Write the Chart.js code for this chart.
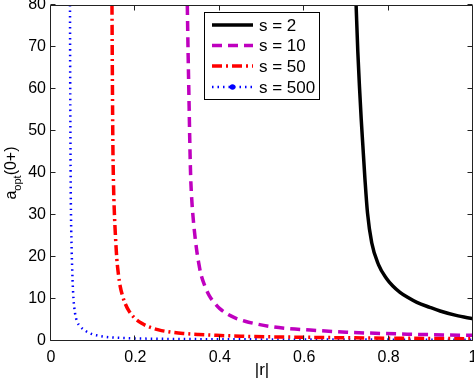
<!DOCTYPE html>
<html><head><meta charset="utf-8">
<script src="https://cdn.jsdelivr.net/npm/chart.js@4/dist/chart.umd.min.js"></script>
<style>html,body{margin:0;padding:0;background:#fff;overflow:hidden}</style>
</head><body>
<canvas id="c" width="474" height="379"></canvas>
<script>
// ---- data ----
const seriesLabels = ['s = 2', 's = 10', 's = 50', 's = 500'];
const rS2   = [0.723, 0.727, 0.731, 0.735, 0.739, 0.744, 0.750, 0.760, 0.776, 0.795, 0.810, 0.827, 0.845, 0.867, 0.898, 0.922, 0.960, 1.0];
const aS2   = [80, 69, 60.5, 53, 46.5, 38.5, 30.5, 23.4, 18.2, 14.9, 13.1, 11.6, 10.4, 9.2, 8.0, 7.15, 6.1, 5.3];
const rS10  = [0.323, 0.325, 0.327, 0.329, 0.331, 0.334, 0.338, 0.345, 0.350, 0.355, 0.365, 0.375, 0.388, 0.400, 0.418, 0.436, 0.460, 0.483, 0.520, 0.558, 0.630, 0.70, 0.78, 0.86, 0.93, 1.0];
const aS10  = [80, 68, 57.5, 47, 39, 33, 28, 21.8, 18.6, 16.0, 13.0, 10.8, 9.0, 7.7, 6.4, 5.5, 4.7, 4.15, 3.45, 3.0, 2.5, 2.1, 1.8, 1.6, 1.45, 1.35];
const rS50  = [0.1445, 0.1455, 0.1465, 0.148, 0.150, 0.153, 0.156, 0.160, 0.164, 0.170, 0.175, 0.185, 0.199, 0.215, 0.231, 0.255, 0.278, 0.313, 0.35, 0.392, 0.45, 0.511, 0.59, 0.668, 0.83, 1.0];
const aS50  = [80, 62, 48, 38, 31, 24.5, 19.5, 15.7, 13.0, 10.6, 9.1, 7.1, 5.4, 4.2, 3.4, 2.65, 2.2, 1.8, 1.55, 1.35, 1.15, 1.0, 0.9, 0.8, 0.65, 0.55];
const rS500 = [0.0450, 0.0455, 0.0460, 0.0466, 0.0475, 0.049, 0.051, 0.0535, 0.057, 0.062, 0.070, 0.0806, 0.093, 0.108, 0.128, 0.148, 0.2, 0.28, 0.4, 0.67, 1.0];
const aS500 = [80, 62, 50, 38.5, 29, 21.6, 14.8, 9.8, 6.6, 4.6, 3.4, 2.5, 1.8, 1.35, 1.0, 0.82, 0.62, 0.5, 0.42, 0.35, 0.3];
const xTicks = [0, 0.2, 0.4, 0.6, 0.8, 1];
const yTicks = [0, 10, 20, 30, 40, 50, 60, 70, 80];
const xTickLabels = ['0', '0.2', '0.4', '0.6', '0.8', '1'];

const FONT = "'Liberation Sans', Arial, Helvetica, sans-serif";
const pts = (xs, ys) => xs.map((x, i) => ({x: x, y: ys[i]}));

const styles = [
  {color: '#000000', width: 3.5, dash: [], dot: false},
  {color: '#bf00bf', width: 3.5, dash: [10, 6], dot: false},
  {color: '#ff0000', width: 3.5, dash: [10, 4, 2, 4], dot: false},
  {color: '#0000ff', width: 2.5, dash: [1.5, 4], dot: true}
];
const seriesData = [pts(rS2, aS2), pts(rS10, aS10), pts(rS50, aS50), pts(rS500, aS500)];

const datasets = seriesData.map((d, i) => ({
  label: seriesLabels[i],
  data: d,
  borderColor: styles[i].color,
  borderWidth: styles[i].width,
  borderDash: styles[i].dash,
  pointRadius: 0,
  fill: false,
  cubicInterpolationMode: 'monotone',
  clip: 0
}));

const framePlugin = {
  id: 'frame',
  afterDraw(chart) {
    const ctx = chart.ctx, xs = chart.scales.x, ys = chart.scales.y;
    const L = Math.round(xs.getPixelForValue(0)) - 0.5;
    const R = Math.round(xs.getPixelForValue(1)) - 0.5;
    const T = Math.round(ys.getPixelForValue(80)) + 0.5;
    const B = Math.round(ys.getPixelForValue(0)) - 0.5;
    ctx.save();
    ctx.strokeStyle = '#222';
    ctx.lineWidth = 1;
    ctx.beginPath();
    ctx.rect(L, T, R - L, B - T);
    xTicks.forEach(v => {
      const p = Math.round(xs.getPixelForValue(v)) - 0.5;
      ctx.moveTo(p, B); ctx.lineTo(p, B - 5);
      ctx.moveTo(p, T); ctx.lineTo(p, T + 5);
    });
    yTicks.forEach(v => {
      const p = Math.round(ys.getPixelForValue(v)) - 0.5;
      ctx.moveTo(L, p); ctx.lineTo(L + 5, p);
      ctx.moveTo(R, p); ctx.lineTo(R - 5, p);
    });
    ctx.stroke();

    // y axis title with subscript
    ctx.fillStyle = '#000';
    ctx.translate(16, (T + B) / 2);
    ctx.rotate(-Math.PI / 2);
    ctx.textBaseline = 'alphabetic';
    ctx.font = '16px ' + FONT;
    const wa = ctx.measureText('a').width;
    const wr = ctx.measureText('(0+)').width;
    ctx.font = '11px ' + FONT;
    const ws = ctx.measureText('opt').width;
    let x0 = -(wa + ws + wr) / 2;
    ctx.font = '16px ' + FONT;
    ctx.fillText('a', x0, 0);
    ctx.font = '11px ' + FONT;
    ctx.fillText('opt', x0 + wa, 5);
    ctx.font = '16px ' + FONT;
    ctx.fillText('(0+)', x0 + wa + ws, 0);
    ctx.restore();

    // legend box
    ctx.save();
    ctx.fillStyle = '#fff';
    ctx.strokeStyle = '#000';
    ctx.lineWidth = 1;
    ctx.fillRect(204.5, 12.5, 115, 87);
    ctx.strokeRect(204.5, 12.5, 115, 87);
    const rows = [25, 45.5, 66, 87];
    chart.data.datasets.forEach((ds, i) => {
      const y = rows[i];
      ctx.strokeStyle = ds.borderColor;
      ctx.lineWidth = ds.borderWidth;
      ctx.setLineDash(ds.borderDash);
      ctx.beginPath();
      ctx.moveTo(212, y); ctx.lineTo(253, y);
      ctx.stroke();
      ctx.setLineDash([]);
      if (styles[i].dot) {
        ctx.fillStyle = ds.borderColor;
        ctx.beginPath(); ctx.arc(232.5, y, 2.8, 0, Math.PI * 2); ctx.fill();
      }
      ctx.fillStyle = '#000';
      ctx.font = '17px ' + FONT;
      ctx.textBaseline = 'middle';
      ctx.textAlign = 'left';
      ctx.fillText(ds.label, 259, y + 1);
    });
    ctx.restore();
  }
};

new Chart(document.getElementById('c'), {
  type: 'line',
  data: {datasets: datasets},
  options: {
    responsive: false,
    animation: false,
    devicePixelRatio: 1,
    layout: {padding: {top: 5, right: 1, left: 0, bottom: 0}},
    plugins: {legend: {display: false}, tooltip: {enabled: false}},
    scales: {
      x: {
        type: 'linear', min: 0, max: 1,
        afterBuildTicks: s => { s.ticks = xTicks.map(v => ({value: v})); },
        afterFit: s => { s.height = 38; s.paddingLeft = 0; s.paddingRight = 0; },
        grid: {display: false, drawTicks: false},
        border: {display: false},
        ticks: {
          font: {family: FONT, size: 16}, color: '#000', padding: 7,
          maxRotation: 0, autoSkip: false,
          callback: (v) => xTickLabels[xTicks.indexOf(v)] ?? ''
        },
        title: {display: true, text: '|r|', font: {family: FONT, size: 17, lineHeight: 1}, color: '#000', padding: {top: 0, bottom: 0}}
      },
      y: {
        type: 'linear', min: 0, max: 80,
        afterBuildTicks: s => { s.ticks = yTicks.map(v => ({value: v})); },
        afterFit: s => { s.width = 51; s.paddingTop = 0; s.paddingBottom = 0; },
        grid: {display: false, drawTicks: false},
        border: {display: false},
        ticks: {font: {family: FONT, size: 16}, color: '#000', padding: 5, autoSkip: false}
      }
    }
  },
  plugins: [framePlugin]
});
</script>
</body></html>
